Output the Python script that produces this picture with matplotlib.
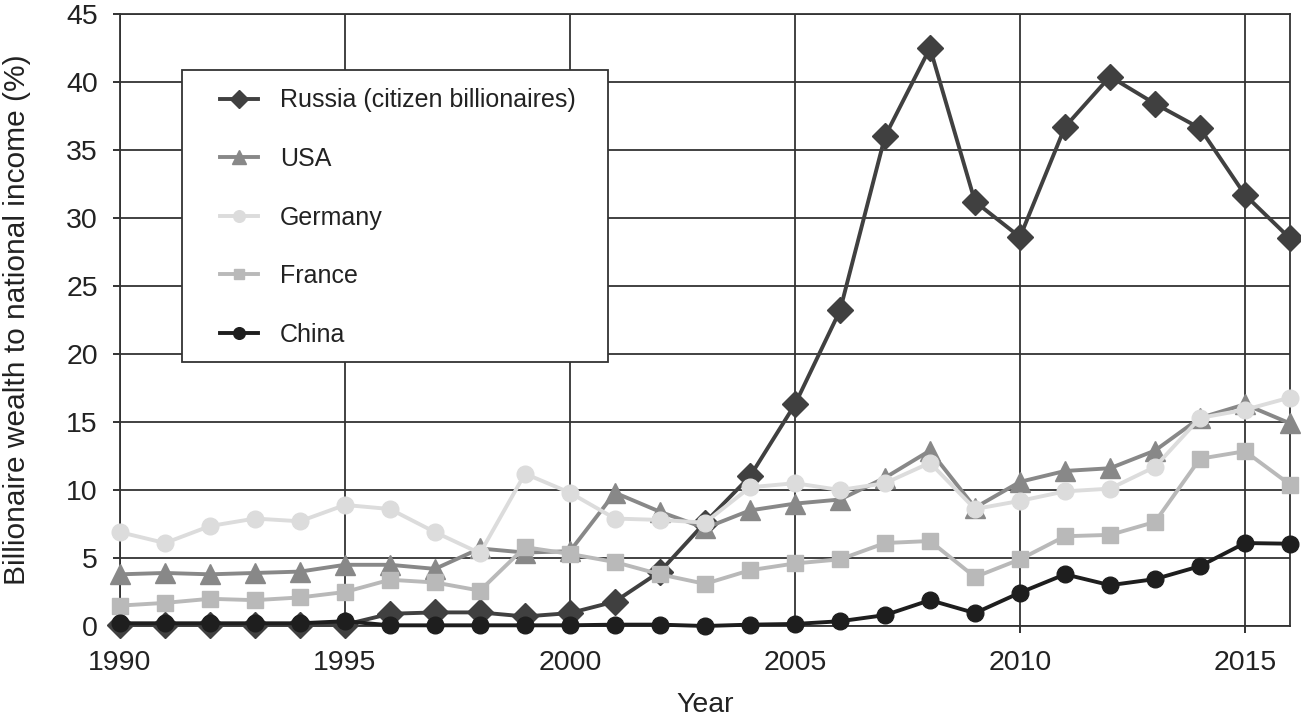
import matplotlib
matplotlib.use("Agg")
import matplotlib.pyplot as plt
from matplotlib.patches import Rectangle

years = list(range(1990, 2017))

russia = [0.1, 0.1, 0.1, 0.1, 0.1, 0.1, 0.9, 1.0, 1.0, 0.7, 0.95, 1.8, 4.0, 7.6, 11.0, 16.3,
          23.2, 36.0, 42.5, 31.2, 28.6, 36.7, 40.4, 38.4, 36.6, 31.7, 28.5]
usa = [3.8, 3.9, 3.8, 3.9, 4.0, 4.5, 4.5, 4.2, 5.7, 5.4, 5.5, 9.8, 8.4, 7.2, 8.5, 9.0,
       9.3, 10.9, 12.9, 8.7, 10.6, 11.4, 11.6, 12.9, 15.3, 16.3, 14.9]
germany = [6.9, 6.1, 7.35, 7.9, 7.7, 8.9, 8.6, 6.9, 5.35, 11.2, 9.8, 7.9, 7.8, 7.6, 10.2, 10.5,
           10.0, 10.5, 12.0, 8.6, 9.2, 9.9, 10.1, 11.7, 15.3, 15.9, 16.8]
france = [1.5, 1.7, 2.0, 1.9, 2.1, 2.5, 3.4, 3.2, 2.6, 5.8, 5.3, 4.7, 3.8, 3.1, 4.1, 4.6,
          4.9, 6.1, 6.25, 3.6, 4.9, 6.6, 6.7, 7.65, 12.3, 12.85, 10.4]
china = [0.2, 0.2, 0.2, 0.2, 0.2, 0.35, 0.05, 0.05, 0.05, 0.05, 0.05, 0.1, 0.1, 0.0, 0.1, 0.15,
         0.35, 0.8, 1.9, 0.95, 2.45, 3.8, 3.0, 3.45, 4.4, 6.1, 6.05]

series_names = ["Russia (citizen billionaires)", "USA", "Germany", "France", "China"]
x_ticks = [1990, 1995, 2000, 2005, 2010, 2015]
y_ticks = [0, 5, 10, 15, 20, 25, 30, 35, 40, 45]

plt.rcParams['font.family'] = ['Liberation Sans', 'DejaVu Sans']

fig = plt.figure(figsize=(13.01, 7.16), dpi=100)
ax = fig.add_axes([120 / 1301, 90 / 716, 1170 / 1301, 612 / 716])

styles = [
    dict(color="#404040", marker="D", markersize=13),
    dict(color="#888888", marker="^", markersize=14),
    dict(color="#dcdcdc", marker="o", markersize=12),
    dict(color="#b9b9b9", marker="s", markersize=11),
    dict(color="#1e1e1e", marker="o", markersize=12),
]
data = [russia, usa, germany, france, china]

for name, vals, st in zip(series_names, data, styles):
    ax.plot(years, vals, label=name, linewidth=2.8, color=st["color"],
            marker=st["marker"], markersize=st["markersize"],
            markerfacecolor=st["color"], markeredgecolor=st["color"],
            clip_on=False, zorder=3)

ax.set_xlim(1990, 2016)
ax.set_ylim(0, 45)
ax.set_xticks(x_ticks)
ax.set_yticks(y_ticks)
ax.tick_params(axis='both', labelsize=20.5, colors="#222222", length=5, width=1.3,
               direction='out')
ax.tick_params(axis='y', pad=11)
ax.tick_params(axis='x', pad=12.5)
ax.grid(True, color="#333333", linewidth=1.3)
ax.set_axisbelow(True)
for s in ax.spines.values():
    s.set_color("#333333")
    s.set_linewidth(1.3)

ax.set_xlabel("Year", fontsize=20.5, color="#222222")
ax.set_ylabel("Billionaire wealth to national income (%)", fontsize=21.5, color="#222222")
ax.xaxis.set_label_coords(0.5, (626 - 692) / 612)
ax.yaxis.set_label_coords((31 - 120) / 1170, 0.5)

# legend box
ax.add_patch(Rectangle(((182 - 120) / 1170, (626 - 362) / 612),
                       (608 - 182) / 1170, (362 - 70) / 612,
                       transform=ax.transAxes, facecolor="white",
                       edgecolor="#333333", linewidth=1.3, zorder=5))

leg = ax.legend(loc="upper left", bbox_to_anchor=((220 - 120) / 1170, (626 - 88.5) / 612),
                fontsize=18, frameon=False, borderpad=0, labelspacing=1.38,
                handlelength=1.52, handletextpad=0.88, borderaxespad=0,
                markerscale=0.7)
leg.set_zorder(6)
for t in leg.get_texts():
    t.set_color("#222222")

fig.savefig("out.png", dpi=100)
